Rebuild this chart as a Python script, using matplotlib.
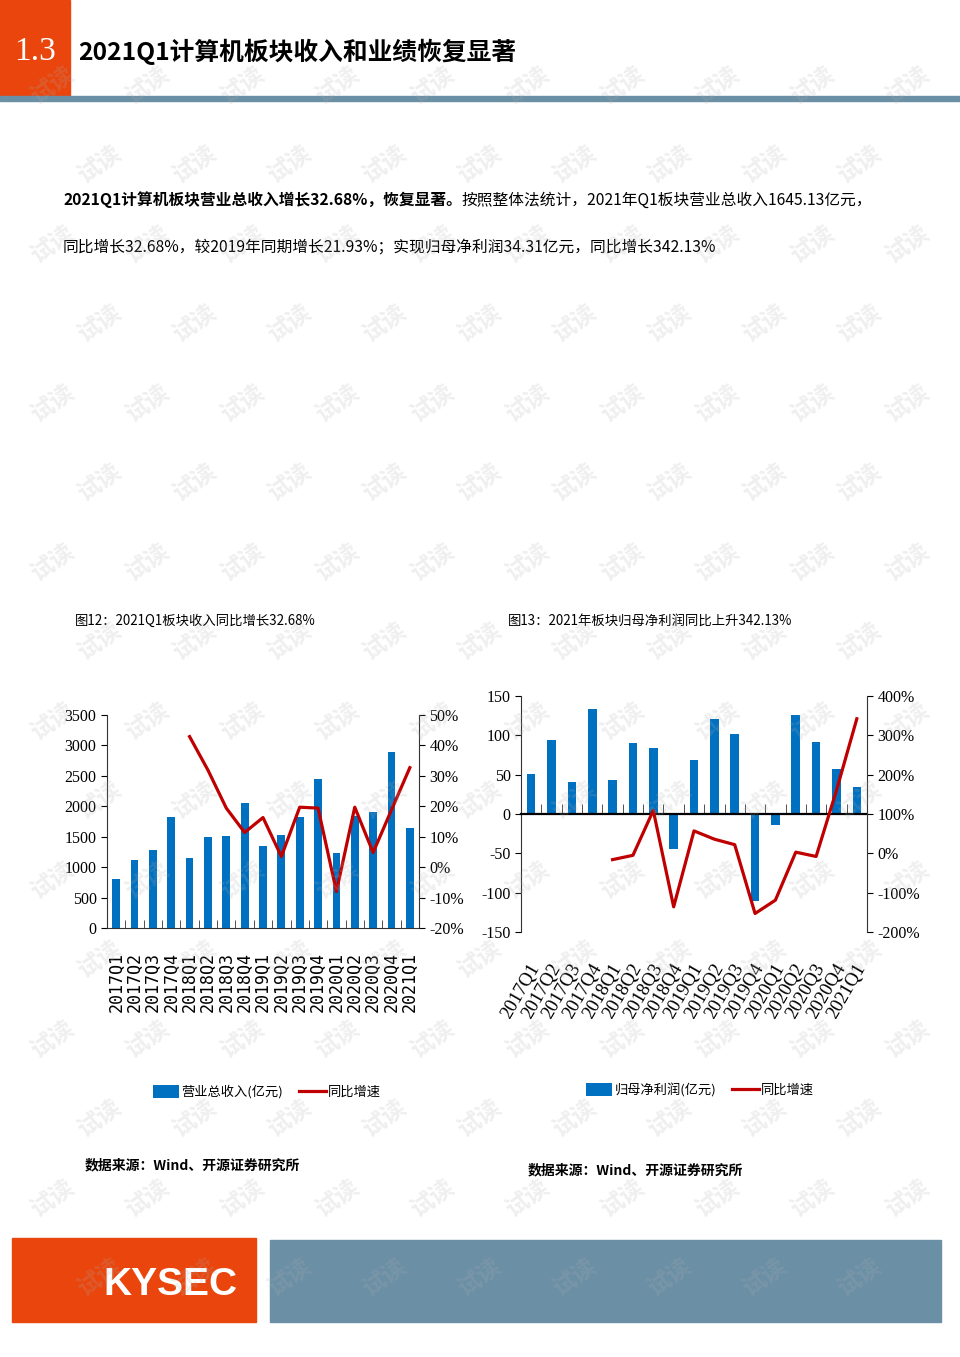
import numpy as np
import matplotlib
matplotlib.use("Agg")
import matplotlib.pyplot as plt
from matplotlib.patches import Rectangle
from matplotlib.ticker import FuncFormatter, MultipleLocator
from matplotlib.transforms import blended_transform_factory
from matplotlib.font_manager import FontProperties

plt.rcParams['font.family'] = ['Noto Sans CJK SC', 'DejaVu Sans']
plt.rcParams['axes.unicode_minus'] = False

# data
quarters = ['2017Q1', '2017Q2', '2017Q3', '2017Q4', '2018Q1', '2018Q2', '2018Q3', '2018Q4',
            '2019Q1', '2019Q2', '2019Q3', '2019Q4', '2020Q1', '2020Q2', '2020Q3', '2020Q4',
            '2021Q1']
revenue = [804, 1116, 1274, 1832, 1154, 1488, 1515, 2051, 1345, 1531, 1821, 2445,
           1236, 1835, 1903, 2899, 1645.13]
revenue_yoy = [np.nan, np.nan, np.nan, np.nan, 42.9, 31.9, 19.4, 11.4, 16.3, 3.5, 19.7, 19.4,
               -8.0, 19.7, 4.8, 18.8, 32.68]
profit = [51.3, 94, 40.3, 133, 43.6, 89.8, 84.3, -44, 69, 120.8, 101.3, -110.6,
          -14, 126.3, 92, 57.2, 34.31]
profit_yoy = [np.nan, np.nan, np.nan, np.nan, -16, -5, 109, -136, 57, 36, 22, -153,
              -119, 3, -8, 160, 342.13]

BLUE = '#0070c0'
RED = '#c00000'
ORANGE = '#e9450c'
SLATE = '#6b8fa5'

W, H = 960, 1357
fig = plt.figure(figsize=(W / 100, H / 100), dpi=100)


def fx(px):
    return px / W


def fy(py):
    return 1 - py / H


# header
fig.patches.append(Rectangle((0, fy(98)), fx(70), 98 / H, transform=fig.transFigure,
                             color=ORANGE, zorder=1))
fig.patches.append(Rectangle((0, fy(101)), 1, 5 / H, transform=fig.transFigure,
                             color=SLATE, zorder=1))
fig.text(fx(35), fy(52), '1.3', color='white', fontsize=24, family='Liberation Serif',
         ha='center', va='center')
fig.text(fx(78), fy(52), '2021Q1计算机板块收入和业绩恢复显著', fontsize=17.8,
         weight='bold', va='center')

# body paragraph (bold lead-in + regular text)
renderer = fig.canvas.get_renderer()


def runs(x0, y0, parts, size):
    x = x0
    for txt, wt in parts:
        t = fig.text(fx(x), fy(y0), txt, fontsize=size, weight=wt, va='center')
        bb = t.get_window_extent(renderer=renderer)
        x += bb.width


runs(63, 200, [('2021Q1计算机板块营业总收入增长32.68%，恢复显著。', 'bold'),
               ('按照整体法统计，2021年Q1板块营业总收入1645.13亿元，', 'normal')], 11.3)
runs(63, 247, [('同比增长32.68%，较2019年同期增长21.93%；实现归母净利润34.31亿元，同比增长342.13%',
                'normal')], 11.3)

# chart titles
fig.text(fx(75), fy(621), '图12：2021Q1板块收入同比增长32.68%', fontsize=9.6, va='center')
fig.text(fx(508), fy(621), '图13：2021年板块归母净利润同比上升342.13%', fontsize=9.6,
         va='center')

x = np.arange(len(quarters))
pct = FuncFormatter(lambda v, _: f'{v:.0f}%')
leg_font = FontProperties(family='Noto Sans CJK SC', size=9.5)

# left chart
ax1 = fig.add_axes([fx(107), fy(928), (419 - 107) / W, (928 - 715) / H])
ax1.set_facecolor('none')
b1 = ax1.bar(x, revenue, width=0.42, color=BLUE, label='营业总收入(亿元)')
ax1.set_xlim(-0.5, len(quarters) - 0.5)
ax1.set_ylim(0, 3500)
ax1.yaxis.set_major_locator(MultipleLocator(500))
ax1.set_xticks(x)
ax1.set_xticklabels(quarters, rotation=90, fontfamily='DejaVu Sans Mono', fontsize=12)
ax1.set_xticks(np.arange(len(quarters) + 1) - 0.5, minor=True)
ax1.tick_params(axis='x', which='major', length=0, pad=17)
ax1.tick_params(axis='x', which='minor', direction='in', length=6, color='#333333')
ax1.tick_params(axis='y', direction='out', length=4, labelsize=11.5,
                labelfontfamily='Liberation Serif')
ax1.spines[['top', 'right']].set_visible(False)

ax1b = ax1.twinx()
l1, = ax1b.plot(x, revenue_yoy, color=RED, lw=2.3, label='同比增速')
ax1b.set_ylim(-20, 50)
ax1b.yaxis.set_major_locator(MultipleLocator(10))
ax1b.yaxis.set_major_formatter(pct)
ax1b.tick_params(axis='y', direction='out', length=4, labelsize=11.5,
                 labelfontfamily='Liberation Serif')
ax1b.spines[['top', 'left', 'bottom']].set_visible(False)
for ax in (ax1, ax1b):
    for s in ax.spines.values():
        s.set_color('#333333')

ax1.legend([b1, l1], ['营业总收入(亿元)', '同比增速'], loc='center',
           bbox_to_anchor=(fx(267), fy(1092)), bbox_transform=fig.transFigure, ncol=2,
           frameon=False, handlelength=2.0, handleheight=1.1, handletextpad=0.2,
           columnspacing=1.2, prop=leg_font)

# right chart
ax2 = fig.add_axes([fx(521), fy(932), (867 - 521) / W, (932 - 696) / H])
ax2.set_facecolor('none')
b2 = ax2.bar(x, profit, width=0.42, color=BLUE)
ax2.set_xlim(-0.5, len(quarters) - 0.5)
ax2.set_ylim(-150, 150)
ax2.yaxis.set_major_locator(MultipleLocator(50))
ax2.spines['bottom'].set_position(('data', 0))
ax2.spines['bottom'].set_linewidth(1.6)
ax2.spines['bottom'].set_color('black')
ax2.set_xticks([])
ax2.set_xticks(np.arange(len(quarters) + 1) - 0.5, minor=True)
ax2.tick_params(axis='x', which='minor', direction='in', length=7, color='#333333')
ax2.tick_params(axis='y', direction='out', length=4, labelsize=11.5,
                labelfontfamily='Liberation Serif')
ax2.spines['top'].set_visible(False)
ax2.spines['right'].set_visible(False)
ax2.spines['left'].set_color('#333333')
trans = blended_transform_factory(ax2.transData, ax2.transAxes)
for i, q in enumerate(quarters):
    ax2.text(i + 0.25, -0.14, q, transform=trans, rotation=60, rotation_mode='anchor',
             ha='right', va='center', fontfamily='Liberation Serif', fontsize=13.5)

ax2b = ax2.twinx()
l2, = ax2b.plot(x, profit_yoy, color=RED, lw=2.3)
ax2b.set_ylim(-200, 400)
ax2b.yaxis.set_major_locator(MultipleLocator(100))
ax2b.yaxis.set_major_formatter(pct)
ax2b.tick_params(axis='y', direction='out', length=4, labelsize=11.5,
                 labelfontfamily='Liberation Serif')
ax2b.spines[['top', 'left', 'bottom']].set_visible(False)
ax2b.spines['right'].set_color('#333333')

ax2.legend([b2, l2], ['归母净利润(亿元)', '同比增速'], loc='center',
           bbox_to_anchor=(fx(700), fy(1090)), bbox_transform=fig.transFigure, ncol=2,
           frameon=False, handlelength=2.0, handleheight=1.1, handletextpad=0.2,
           columnspacing=1.2, prop=leg_font)

# sources
fig.text(fx(85), fy(1165), '数据来源：Wind、开源证券研究所', fontsize=10, weight='bold',
         va='center')
fig.text(fx(528), fy(1170), '数据来源：Wind、开源证券研究所', fontsize=10, weight='bold',
         va='center')

# footer
fig.patches.append(Rectangle((fx(12), fy(1322)), (256 - 12) / W, 84 / H,
                             transform=fig.transFigure, color=ORANGE, zorder=1))
fig.patches.append(Rectangle((fx(270), fy(1322)), (941 - 270) / W, 82 / H,
                             transform=fig.transFigure, color=SLATE, zorder=1))
fig.text(fx(170), fy(1285), 'KYSEC', color='white', fontsize=28, weight='bold',
         family='Liberation Sans', ha='center', va='center')

# watermark grid (only marks that sit fully inside the page)
for n in range(18):
    yy = 5 + 79.5 * n
    xx = 100 if n % 2 == 0 else 53
    while xx < 990:
        if 30 < xx < 930 and 25 < yy < 1335:
            fig.text(fx(xx), fy(yy), '试读', rotation=35, fontsize=17, weight='bold',
                     color='#b0b0b0', alpha=0.2, ha='center', va='center', zorder=10)
        xx += 95

fig.savefig('out.png', dpi=100)
